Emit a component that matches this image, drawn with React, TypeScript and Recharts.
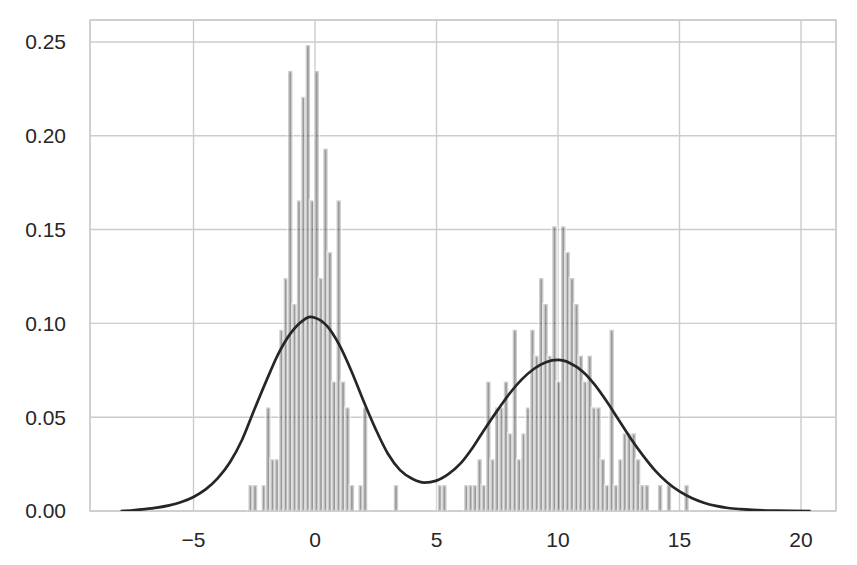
import { Bar, CartesianGrid, ComposedChart, Line, ReferenceArea, XAxis, YAxis } from "recharts"

// histogram: 100 equal bins, counts
const BIN_START = -2.74
const BIN_WIDTH = 0.1812
const SAMPLE_SIZE = 400

const binCounts = [
  1, 1, 0, 1, 4, 2, 2, 7, 9, 17,
  8, 12, 16, 18, 12, 17, 9, 14, 10, 5,
  12, 5, 4, 1, 0, 1, 4, 0, 0, 0,
  0, 0, 0, 1, 0, 0, 0, 0, 0, 0,
  0, 0, 0, 1, 1, 0, 0, 0, 0, 1,
  1, 1, 2, 1, 5, 2, 4, 4, 5, 3,
  7, 2, 3, 4, 7, 6, 9, 8, 6, 11,
  5, 11, 10, 9, 8, 6, 5, 6, 4, 4,
  2, 1, 7, 1, 2, 3, 3, 3, 2, 1,
  1, 0, 0, 1, 0, 1, 0, 0, 0, 1,
]

// kernel density estimate
const kdeX = [
  -8, -7.5, -7, -6.5, -6, -5.5, -5, -4.5, -4, -3.5,
  -3, -2.5, -2, -1.5, -1, -0.5, -0.2, 0,
  0.5, 1, 1.5, 2, 2.5, 3, 3.5, 4, 4.5, 5,
  5.5, 6, 6.5, 7, 7.5, 8, 8.5, 9, 9.5, 10,
  10.5, 11, 11.5, 12, 12.5, 13, 13.5, 14, 14.5, 15,
  15.5, 16, 16.5, 17, 17.5, 18, 19, 20.4,
]
const kdeDensity = [
  0, 0.0004, 0.001, 0.0018, 0.003, 0.0048, 0.0075, 0.0115, 0.0175, 0.026,
  0.038, 0.054, 0.0695, 0.084, 0.0948, 0.1015, 0.1035, 0.103,
  0.0985, 0.0885, 0.0745, 0.0585, 0.0435, 0.0305, 0.0218, 0.0172, 0.0151, 0.0162,
  0.0198, 0.0255, 0.034, 0.044, 0.0535, 0.0625, 0.07, 0.0757, 0.0793, 0.0805,
  0.0788, 0.0745, 0.0675, 0.0585, 0.0485, 0.0385, 0.0295, 0.0215, 0.0152, 0.0104,
  0.0069, 0.0044, 0.0027, 0.0016, 0.001, 0.0006, 0.0002, 0,
]

const xTicks = [-5, 0, 5, 10, 15, 20]
const yTicks = [0, 0.05, 0.1, 0.15, 0.2, 0.25]

const X_DOMAIN: [number, number] = [-9.26, 21.44]
const Y_DOMAIN: [number, number] = [0, 0.2617]

const WIDTH = 845
const HEIGHT = 550
const MARGIN = { top: 12, right: 17, bottom: 0, left: 0 }
const Y_AXIS_WIDTH = 82
const X_AXIS_HEIGHT = 47

const plotWidth = WIDTH - MARGIN.left - MARGIN.right - Y_AXIS_WIDTH
const barPx = (BIN_WIDTH * plotWidth) / (X_DOMAIN[1] - X_DOMAIN[0])

const histData = binCounts.map((count, i) => ({
  x: BIN_START + (i + 0.5) * BIN_WIDTH,
  density: count / (SAMPLE_SIZE * BIN_WIDTH),
}))

const kdeData = kdeX.map((x, i) => ({ x, kde: kdeDensity[i] }))

const tickStyle = { fill: "#262626", fontSize: 21, fontFamily: "Liberation Sans, Arial, sans-serif" }
const gridColor = "#cccccc"

// matplotlib-like bar: translucent grey face, wide translucent white edge, centred on the bin
function HistBar(props: any) {
  const { x, y, width, height } = props
  if (!height || height <= 0) return null
  const cx = x + width / 2
  return (
    <rect
      x={cx - barPx / 2}
      y={y}
      width={barPx}
      height={height}
      fill="#000000"
      fillOpacity={0.4}
      stroke="#ffffff"
      strokeOpacity={0.5}
      strokeWidth={2.8}
    />
  )
}

export default function App() {
  return (
    <ComposedChart width={WIDTH} height={HEIGHT} data={histData} margin={MARGIN} barGap={0} barCategoryGap={0}>
      <CartesianGrid stroke={gridColor} strokeWidth={1.4} />
      <XAxis
        dataKey="x"
        type="number"
        domain={X_DOMAIN}
        allowDataOverflow
        ticks={xTicks}
        tickFormatter={(v) => (v < 0 ? `\u2212${Math.abs(v)}` : `${v}`)}
        tick={tickStyle}
        tickLine={false}
        tickSize={0}
        tickMargin={21}
        axisLine={false}
        height={X_AXIS_HEIGHT}
        interval={0}
      />
      <YAxis
        type="number"
        domain={Y_DOMAIN}
        allowDataOverflow
        ticks={yTicks}
        tickFormatter={(v) => v.toFixed(2)}
        tick={tickStyle}
        tickLine={false}
        tickSize={0}
        tickMargin={24}
        axisLine={false}
        width={Y_AXIS_WIDTH}
        interval={0}
      />
      <Bar dataKey="density" barSize={barPx} shape={<HistBar />} isAnimationActive={false} />
      <Line
        data={kdeData}
        dataKey="kde"
        type="monotone"
        stroke="#262626"
        strokeWidth={2.7}
        dot={false}
        activeDot={false}
        isAnimationActive={false}
      />
      <ReferenceArea
        x1={X_DOMAIN[0]}
        x2={X_DOMAIN[1]}
        y1={Y_DOMAIN[0]}
        y2={Y_DOMAIN[1]}
        fill="none"
        stroke={gridColor}
        strokeWidth={1.4}
        ifOverflow="extendDomain"
      />
    </ComposedChart>
  )
}
